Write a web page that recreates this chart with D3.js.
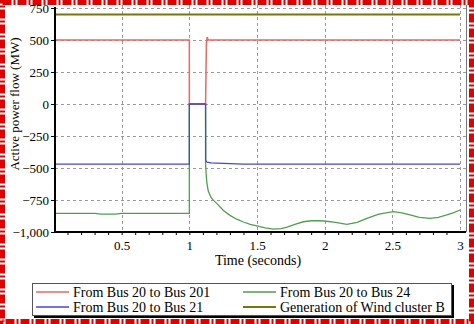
<!DOCTYPE html>
<html><head><meta charset="utf-8">
<script src="https://cdn.jsdelivr.net/npm/d3@7"></script>
<style>body{margin:0;background:#fff}svg{display:block}</style>
</head><body>
<script>
// ---- data ----
const xTicks = [0.5, 1, 1.5, 2, 2.5, 3];
const yTicks = [-1000, -750, -500, -250, 0, 250, 500, 750];
const legendLabels = ["From Bus 20 to Bus 201", "From Bus 20 to Bus 21", "From Bus 20 to Bus 24", "Generation of Wind cluster B"];

const bus201T = [0, 1.0, 1.0, 1.12, 1.126, 1.132, 1.14, 3.0];
const bus201V = [500, 500, 0, 0, 470, 522, 500, 500];

const bus21T = [0, 1.0, 1.0, 1.12, 1.121, 1.13, 1.16, 1.25, 1.4, 3.0];
const bus21V = [-470, -470, 0, 0, -440, -455, -460, -464, -470, -470];

const bus24T = [0, 0.3, 0.35, 0.45, 0.5, 1.0, 1.0, 1.12, 1.12, 1.125, 1.13, 1.14, 1.16, 1.18, 1.206, 1.25, 1.3, 1.35, 1.4, 1.45, 1.5, 1.56, 1.621, 1.68, 1.722, 1.78, 1.842, 1.9, 1.943, 1.997, 2.08, 2.164, 2.24, 2.312, 2.4, 2.508, 2.57, 2.631, 2.7, 2.779, 2.84, 2.902, 2.95, 3.0];
const bus24V = [-855, -855, -860, -860, -855, -855, 0, 0, -470, -560, -620, -680, -730, -755, -780, -830, -870, -900, -922, -940, -953, -968, -977, -974, -961, -940, -920, -912, -912, -914, -925, -940, -925, -893, -860, -841, -850, -867, -885, -893, -885, -867, -850, -828];

const windT = [0, 3.0];
const windV = [700, 700];

const colors = ["#f06464", "#4646d6", "#4ea04e", "#76760c"];

// ---- drawing ----
const FONT = "'Liberation Serif', 'DejaVu Serif', serif";
const W = 474, H = 324;
const svg = d3.select("body").append("svg").attr("width", W).attr("height", H).attr("font-family", FONT);
const x = d3.scaleLinear().domain([0, 3]).range([54, 460]);
const y = d3.scaleLinear().domain([-1000, 750]).range([232, 8]);
const pL = 55, pR = 466, pT = 5, pB = 232;

svg.append("defs").append("clipPath").attr("id", "clip")
  .append("rect").attr("x", pL).attr("y", pT).attr("width", pR - pL).attr("height", pB - pT);

// grid
const grid = svg.append("g").attr("stroke", "#9a9a9a").attr("stroke-dasharray", "3,3").attr("stroke-width", 1);
yTicks.filter(v => v > -1000).forEach(v => {
  grid.append("line").attr("x1", pL).attr("x2", pR).attr("y1", Math.round(y(v)) + 0.5).attr("y2", Math.round(y(v)) + 0.5);
});
xTicks.forEach(v => {
  grid.append("line").attr("y1", pT).attr("y2", pB).attr("x1", Math.round(x(v)) + 0.5).attr("x2", Math.round(x(v)) + 0.5);
});
// right frame
svg.append("line").attr("x1", pR + 0.5).attr("x2", pR + 0.5).attr("y1", pT).attr("y2", pB).attr("stroke", "#777").attr("stroke-width", 1);

// series
const line = d3.line().x(d => x(d[0])).y(d => y(d[1]));
const seriesData = [
  [bus201T, bus201V, 1.5],
  [bus21T, bus21V, 1.3],
  [bus24T, bus24V, 1.3],
  [windT, windV, 2]
];
const plotG = svg.append("g").attr("clip-path", "url(#clip)");
[3, 2, 0, 1].forEach(i => {
  const [t, v, w] = seriesData[i];
  plotG.append("path").datum(t.map((d, k) => [d, v[k]]))
    .attr("d", line).attr("fill", "none").attr("stroke", colors[i]).attr("stroke-width", w);
});

// axes
const yAxis = d3.axisLeft(y).tickValues(yTicks).tickSize(4).tickFormat(d3.format(","));
const gy = svg.append("g").attr("transform", `translate(${pL},0)`).call(yAxis).attr("font-family", FONT).attr("font-size", 13);
gy.select(".domain").remove();
gy.selectAll("text").attr("x", -6).style("font-family", FONT).style("font-size", "13px").attr("fill", "#000");
svg.append("line").attr("x1", pL).attr("x2", pL).attr("y1", pT + 2).attr("y2", pB + 1).attr("stroke", "#000").attr("stroke-width", 2);

const xMinor = d3.range(1, 30).map(d => d / 10);
const xAxisMinor = d3.axisBottom(x).tickValues(xMinor).tickSize(3).tickFormat("");
const gxm = svg.append("g").attr("transform", `translate(0,${pB})`).call(xAxisMinor);
gxm.select(".domain").remove();
const xAxis = d3.axisBottom(x).tickValues(xTicks).tickSize(0).tickFormat(d3.format("~g"));
const gx = svg.append("g").attr("transform", `translate(0,${pB})`).call(xAxis).attr("font-family", FONT).attr("font-size", 13);
gx.select(".domain").remove();
gx.selectAll("text").attr("y", 9).style("font-family", FONT).style("font-size", "13px").attr("fill", "#000");
svg.append("line").attr("x1", pL - 1).attr("x2", pR).attr("y1", pB).attr("y2", pB).attr("stroke", "#000").attr("stroke-width", 2);

// axis titles
svg.append("text").attr("x", 258).attr("y", 265).attr("text-anchor", "middle").style("font-family", FONT).style("font-size", "14px").text("Time (seconds)");
svg.append("text").attr("transform", "translate(19,104) rotate(-90)").attr("text-anchor", "middle").style("font-family", FONT).style("font-size", "13px").text("Active power flow (MW)");

// legend
const lg = svg.append("g");
lg.append("rect").attr("x", 34).attr("y", 285).attr("width", 420).attr("height", 33).attr("fill", "#000");
lg.append("rect").attr("x", 32.5).attr("y", 283.5).attr("width", 419).attr("height", 32).attr("fill", "#fff").attr("stroke", "#555").attr("stroke-width", 1);
const legPos = [[36, 292], [36, 307], [243, 292], [243, 307]];
legendLabels.forEach((lab, i) => {
  const [lx, ly] = legPos[i];
  lg.append("line").attr("x1", lx).attr("x2", lx + 33).attr("y1", ly).attr("y2", ly).attr("stroke", colors[i]).attr("stroke-width", i === 3 ? 2 : 1.3);
  lg.append("text").attr("x", lx + 37).attr("y", ly + 4.5).style("font-family", FONT).style("font-size", "14px").text(lab);
});

// red dashed frame
svg.append("rect").attr("x", 2.5).attr("y", 2.5).attr("width", W - 5).attr("height", H - 5)
  .attr("fill", "none").attr("stroke", "#e00000").attr("stroke-width", 5).attr("stroke-dasharray", "9,2,2,2");
</script>
</body></html>
